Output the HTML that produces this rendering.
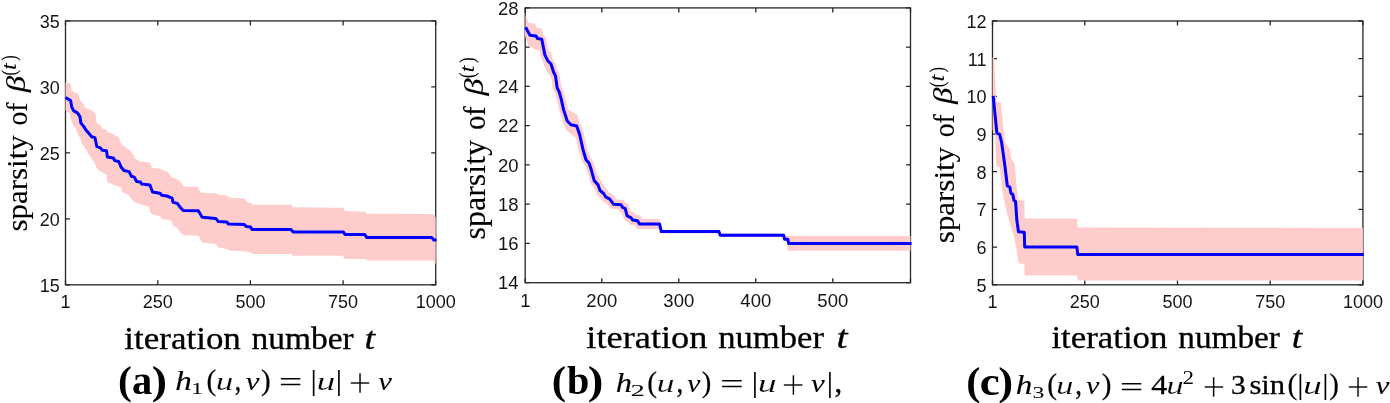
<!DOCTYPE html>
<html lang="en">
<head>
<meta charset="utf-8">
<title>Sparsity of beta versus iteration number</title>
<style>
html,body{margin:0;padding:0;background:#fff;}
body{width:1390px;height:403px;overflow:hidden;}
svg{display:block;}
text{white-space:pre;}
</style>
</head>
<body>
<svg width="1390" height="403" viewBox="0 0 1390 403">
<rect x="0" y="0" width="1390" height="403" fill="#ffffff"/>
<g>
<rect x="65.5" y="20.9" width="370.2" height="263.9" fill="none" stroke="#262626" stroke-width="1.3"/>
<path d="M65.5 284.8v-4.5M65.5 20.9v4.5M157.8 284.8v-4.5M157.8 20.9v4.5M250.4 284.8v-4.5M250.4 20.9v4.5M343.1 284.8v-4.5M343.1 20.9v4.5M435.7 284.8v-4.5M435.7 20.9v4.5M65.5 284.8h4.5M435.7 284.8h-4.5M65.5 218.8h4.5M435.7 218.8h-4.5M65.5 152.9h4.5M435.7 152.9h-4.5M65.5 86.9h4.5M435.7 86.9h-4.5M65.5 20.9h4.5M435.7 20.9h-4.5" stroke="#262626" stroke-width="1.3" fill="none"/>
<polygon points="65.5,82.6 70.4,83.3 71.8,90.6 74.8,92.4 78.2,93.8 80.5,101.1 83.4,103.7 84.7,107.1 87.8,108.9 92.1,110.6 95.6,114.1 96.8,123.6 100.8,125.4 102.6,128.8 106.9,129.7 107.8,132.3 112.1,133.2 115.6,135.8 118.9,137.2 121.3,144.1 124.7,146.7 130.0,150.2 132.6,153.7 135.5,158.9 140.4,161.5 149.9,162.5 151.7,167.4 160.4,169.1 167.4,171.7 171.7,176.9 177.8,179.5 182.1,183.9 183.9,186.5 197.8,186.8 200.4,192.6 217.0,193.4 219.6,194.8 227.0,195.6 229.5,197.8 244.4,198.5 246.8,202.3 251.0,202.5 252.3,204.8 292.0,204.8 292.7,207.3 343.4,207.8 344.5,211.0 366.0,211.8 366.8,213.7 433.0,214.0 435.7,217.2 435.7,263.9 433.0,260.6 366.8,260.6 366.0,259.0 344.3,259.0 343.2,255.7 292.7,255.7 292.0,254.0 252.5,254.0 251.0,252.2 244.4,251.4 229.5,250.6 227.0,249.0 218.3,247.4 215.8,244.0 202.2,242.5 198.5,235.8 183.4,235.2 179.9,232.1 177.3,227.8 173.0,226.0 171.2,220.3 161.7,219.1 160.8,216.5 151.3,213.9 148.7,206.9 140.8,204.3 135.6,202.6 132.2,200.0 128.7,195.3 122.6,192.2 120.5,187.2 118.7,186.7 114.3,184.9 107.4,182.3 106.5,174.5 101.3,171.9 96.9,168.4 94.3,162.3 90.0,156.3 84.8,147.5 81.7,143.6 80.0,137.5 77.4,134.1 75.6,128.0 73.5,125.4 71.3,121.0 69.6,113.6 65.5,110.6" fill="#ffcccc"/>
<polyline points="65.5,97.4 70.6,100.6 71.8,107.1 73.5,110.6 77.4,112.9 80.0,116.7 80.8,122.8 83.4,126.2 86.1,130.2 89.5,134.1 91.6,136.7 94.9,137.6 96.9,146.7 100.4,147.9 102.2,150.2 106.5,150.7 107.4,157.1 113.4,158.0 114.7,160.6 118.7,161.5 120.9,166.7 123.9,170.5 129.1,171.6 131.3,176.2 134.3,177.1 136.6,181.5 140.4,182.0 141.8,184.1 149.9,184.9 152.5,191.9 160.0,193.2 161.7,195.3 166.9,196.0 172.1,198.2 173.0,202.2 177.3,203.4 179.9,206.9 183.2,210.6 198.3,210.7 202.2,217.2 215.8,218.4 218.3,221.6 227.0,222.0 228.2,224.0 244.4,224.6 246.4,226.6 250.6,227.0 252.2,229.6 291.0,229.6 293.4,232.1 343.5,232.1 345.0,234.6 364.8,234.6 366.8,237.6 431.8,237.6 433.8,240.0 436.6,240.0" fill="none" stroke="#0000ff" stroke-width="3.0" stroke-linejoin="round" stroke-linecap="butt"/>
<text transform="translate(65.5,308.3) scale(1.0,1)" text-anchor="middle" font-family="'Liberation Sans', Arial, Helvetica, sans-serif" font-size="18" fill="#151515">1</text>
<text transform="translate(157.8,308.3) scale(1.0,1)" text-anchor="middle" font-family="'Liberation Sans', Arial, Helvetica, sans-serif" font-size="18" fill="#151515">250</text>
<text transform="translate(250.4,308.3) scale(1.0,1)" text-anchor="middle" font-family="'Liberation Sans', Arial, Helvetica, sans-serif" font-size="18" fill="#151515">500</text>
<text transform="translate(343.1,308.3) scale(1.0,1)" text-anchor="middle" font-family="'Liberation Sans', Arial, Helvetica, sans-serif" font-size="18" fill="#151515">750</text>
<text transform="translate(435.7,308.3) scale(1.0,1)" text-anchor="middle" font-family="'Liberation Sans', Arial, Helvetica, sans-serif" font-size="18" fill="#151515">1000</text>
<text transform="translate(59.7,291.7) scale(1.0,1)" text-anchor="end" font-family="'Liberation Sans', Arial, Helvetica, sans-serif" font-size="18" fill="#151515">15</text>
<text transform="translate(59.7,225.7) scale(1.0,1)" text-anchor="end" font-family="'Liberation Sans', Arial, Helvetica, sans-serif" font-size="18" fill="#151515">20</text>
<text transform="translate(59.7,159.8) scale(1.0,1)" text-anchor="end" font-family="'Liberation Sans', Arial, Helvetica, sans-serif" font-size="18" fill="#151515">25</text>
<text transform="translate(59.7,93.8) scale(1.0,1)" text-anchor="end" font-family="'Liberation Sans', Arial, Helvetica, sans-serif" font-size="18" fill="#151515">30</text>
<text transform="translate(59.7,27.8) scale(1.0,1)" text-anchor="end" font-family="'Liberation Sans', Arial, Helvetica, sans-serif" font-size="18" fill="#151515">35</text>
<text transform="translate(124.30,348.70) scale(1.1437,1.0000)" font-family="'Liberation Serif', 'Times New Roman', Times, serif" font-size="30.6" fill="#000" stroke="#000" stroke-width="0.3">iteration</text>
<text transform="translate(251.45,348.70) scale(1.0944,1.0000)" font-family="'Liberation Serif', 'Times New Roman', Times, serif" font-size="30.6" fill="#000" stroke="#000" stroke-width="0.3">number</text>
<text transform="translate(364.59,348.70) scale(1.2425,1.0000)" font-family="'Liberation Serif', 'Times New Roman', Times, serif" font-size="30.6" font-style="italic" fill="#000" stroke="#000" stroke-width="0.3">t</text>
<g transform="translate(26.8,230.2) rotate(-90)">
<text transform="translate(-1.24,0.00) scale(1.0310,1.0000)" font-family="'Liberation Serif', 'Times New Roman', Times, serif" font-size="30.0" fill="#000" stroke="#000" stroke-width="0.1">sparsity</text>
<text transform="translate(104.77,0.00) scale(0.9140,1.0000)" font-family="'Liberation Serif', 'Times New Roman', Times, serif" font-size="30.0" fill="#000" stroke="#000" stroke-width="0.1">of</text>
<text transform="translate(137.99,-2.30) scale(1.2300,1.0000)" font-family="'Liberation Serif', 'Times New Roman', Times, serif" font-size="26.81" font-style="italic" fill="#000" stroke="#000" stroke-width="0.1">β</text>
<text transform="translate(154.66,-10.80) scale(0.7919,1.0000)" font-family="'Liberation Serif', 'Times New Roman', Times, serif" font-size="20.8" fill="#000" stroke="#000" stroke-width="0.1">(</text>
<text transform="translate(160.57,-10.80) scale(1.1043,1.0000)" font-family="'Liberation Serif', 'Times New Roman', Times, serif" font-size="20.8" font-style="italic" fill="#000" stroke="#000" stroke-width="0.1">t</text>
<text transform="translate(169.47,-10.80) scale(0.7842,1.0000)" font-family="'Liberation Serif', 'Times New Roman', Times, serif" font-size="20.8" fill="#000" stroke="#000" stroke-width="0.1">)</text>
</g>
</g>
<text transform="translate(118.03,394.00) scale(1.0264,1.0000)" font-family="'Liberation Serif', 'Times New Roman', Times, serif" font-size="40.5" font-weight="bold" fill="#000">(</text>
<text transform="translate(131.89,394.00) scale(0.9986,1.0000)" font-family="'Liberation Serif', 'Times New Roman', Times, serif" font-size="40.5" font-weight="bold" fill="#000">a</text>
<text transform="translate(151.71,394.00) scale(1.1315,1.0000)" font-family="'Liberation Serif', 'Times New Roman', Times, serif" font-size="40.5" font-weight="bold" fill="#000">)</text>
<text transform="translate(175.16,389.70) scale(1.2172,1.0000)" font-family="'Liberation Serif', 'Times New Roman', Times, serif" font-size="27.19" font-style="italic" fill="#000" stroke="#000" stroke-width="0.15">h</text>
<text transform="translate(190.97,393.70) scale(1.3760,1.0000)" font-family="'Liberation Serif', 'Times New Roman', Times, serif" font-size="17.73" fill="#000">1</text>
<text transform="translate(206.38,390.18) scale(0.9742,1.0000)" font-family="'Liberation Serif', 'Times New Roman', Times, serif" font-size="30.19" fill="#000" stroke="#000" stroke-width="0.2">(</text>
<text transform="translate(215.64,389.68) scale(1.3614,1.0000)" font-family="'Liberation Serif', 'Times New Roman', Times, serif" font-size="25.82" font-style="italic" fill="#000" stroke="#fff" stroke-width="0.2">u</text>
<text transform="translate(234.75,390.06) scale(0.7956,1.0000)" font-family="'Liberation Serif', 'Times New Roman', Times, serif" font-size="31.84" fill="#000" stroke="#000" stroke-width="0.3">,</text>
<text transform="translate(245.84,389.74) scale(1.1915,1.0000)" font-family="'Liberation Serif', 'Times New Roman', Times, serif" font-size="25.96" font-style="italic" fill="#000" stroke="#000" stroke-width="0.1">v</text>
<text transform="translate(260.95,390.18) scale(0.9648,1.0000)" font-family="'Liberation Serif', 'Times New Roman', Times, serif" font-size="30.19" fill="#000" stroke="#000" stroke-width="0.2">)</text>
<text transform="translate(278.80,392.48) scale(1.4561,1.0000)" font-family="'Liberation Serif', 'Times New Roman', Times, serif" font-size="28.8" fill="#000">=</text>
<text transform="translate(310.30,390.02) scale(1.1459,1.0000)" font-family="'Liberation Serif', 'Times New Roman', Times, serif" font-size="29.67" fill="#000">|</text>
<text transform="translate(316.42,389.68) scale(1.4553,1.0000)" font-family="'Liberation Serif', 'Times New Roman', Times, serif" font-size="25.82" font-style="italic" fill="#000" stroke="#fff" stroke-width="0.2">u</text>
<text transform="translate(335.40,390.02) scale(1.1459,1.0000)" font-family="'Liberation Serif', 'Times New Roman', Times, serif" font-size="29.67" fill="#000">|</text>
<text transform="translate(348.46,396.91) scale(0.9694,1.0000)" font-family="'Liberation Serif', 'Times New Roman', Times, serif" font-size="42.15" fill="#000" stroke="#fff" stroke-width="0.55">+</text>
<text transform="translate(378.24,389.74) scale(1.1825,1.0000)" font-family="'Liberation Serif', 'Times New Roman', Times, serif" font-size="25.96" font-style="italic" fill="#000" stroke="#000" stroke-width="0.1">v</text>
<text transform="translate(551.66,394.00) scale(1.0784,1.0000)" font-family="'Liberation Serif', 'Times New Roman', Times, serif" font-size="40.0" font-weight="bold" fill="#000">(</text>
<text transform="translate(566.90,394.00) scale(1.0050,1.0000)" font-family="'Liberation Serif', 'Times New Roman', Times, serif" font-size="40.0" font-weight="bold" fill="#000">b</text>
<text transform="translate(587.77,394.00) scale(1.1748,1.0000)" font-family="'Liberation Serif', 'Times New Roman', Times, serif" font-size="40.0" font-weight="bold" fill="#000">)</text>
<text transform="translate(615.68,391.70) scale(1.1997,1.0000)" font-family="'Liberation Serif', 'Times New Roman', Times, serif" font-size="27.19" font-style="italic" fill="#000" stroke="#000" stroke-width="0.15">h</text>
<text transform="translate(630.61,395.70) scale(1.6280,1.0000)" font-family="'Liberation Serif', 'Times New Roman', Times, serif" font-size="17.66" fill="#000">2</text>
<text transform="translate(647.28,392.18) scale(0.9742,1.0000)" font-family="'Liberation Serif', 'Times New Roman', Times, serif" font-size="30.19" fill="#000" stroke="#000" stroke-width="0.2">(</text>
<text transform="translate(656.59,391.68) scale(1.3990,1.0000)" font-family="'Liberation Serif', 'Times New Roman', Times, serif" font-size="25.82" font-style="italic" fill="#000" stroke="#fff" stroke-width="0.2">u</text>
<text transform="translate(676.40,392.06) scale(0.8375,1.0000)" font-family="'Liberation Serif', 'Times New Roman', Times, serif" font-size="31.84" fill="#000" stroke="#000" stroke-width="0.3">,</text>
<text transform="translate(687.26,391.74) scale(1.1377,1.0000)" font-family="'Liberation Serif', 'Times New Roman', Times, serif" font-size="25.96" font-style="italic" fill="#000" stroke="#000" stroke-width="0.1">v</text>
<text transform="translate(701.77,392.18) scale(0.9519,1.0000)" font-family="'Liberation Serif', 'Times New Roman', Times, serif" font-size="30.19" fill="#000" stroke="#000" stroke-width="0.2">)</text>
<text transform="translate(720.09,394.48) scale(1.4636,1.0000)" font-family="'Liberation Serif', 'Times New Roman', Times, serif" font-size="28.8" fill="#000">=</text>
<text transform="translate(751.60,392.02) scale(1.1459,1.0000)" font-family="'Liberation Serif', 'Times New Roman', Times, serif" font-size="29.67" fill="#000">|</text>
<text transform="translate(757.71,391.68) scale(1.4647,1.0000)" font-family="'Liberation Serif', 'Times New Roman', Times, serif" font-size="25.82" font-style="italic" fill="#000" stroke="#fff" stroke-width="0.2">u</text>
<text transform="translate(781.76,398.91) scale(0.9694,1.0000)" font-family="'Liberation Serif', 'Times New Roman', Times, serif" font-size="42.15" fill="#000" stroke="#fff" stroke-width="0.55">+</text>
<text transform="translate(810.94,391.74) scale(1.1915,1.0000)" font-family="'Liberation Serif', 'Times New Roman', Times, serif" font-size="25.96" font-style="italic" fill="#000" stroke="#000" stroke-width="0.1">v</text>
<text transform="translate(826.50,392.02) scale(1.1459,1.0000)" font-family="'Liberation Serif', 'Times New Roman', Times, serif" font-size="29.67" fill="#000">|</text>
<text transform="translate(834.45,392.06) scale(0.9631,1.0000)" font-family="'Liberation Serif', 'Times New Roman', Times, serif" font-size="31.84" fill="#000" stroke="#000" stroke-width="0.3">,</text>
<text transform="translate(966.18,394.50) scale(1.0686,1.0000)" font-family="'Liberation Serif', 'Times New Roman', Times, serif" font-size="40.0" font-weight="bold" fill="#000">(</text>
<text transform="translate(979.73,394.50) scale(1.1234,1.0000)" font-family="'Liberation Serif', 'Times New Roman', Times, serif" font-size="40.0" font-weight="bold" fill="#000">c</text>
<text transform="translate(998.25,394.50) scale(1.1165,1.0000)" font-family="'Liberation Serif', 'Times New Roman', Times, serif" font-size="40.0" font-weight="bold" fill="#000">)</text>
<text transform="translate(1015.75,394.00) scale(1.2259,1.0000)" font-family="'Liberation Serif', 'Times New Roman', Times, serif" font-size="27.19" font-style="italic" fill="#000" stroke="#000" stroke-width="0.15">h</text>
<text transform="translate(1032.57,397.83) scale(1.3654,1.0000)" font-family="'Liberation Serif', 'Times New Roman', Times, serif" font-size="17.4" fill="#000">3</text>
<text transform="translate(1047.28,394.48) scale(0.9742,1.0000)" font-family="'Liberation Serif', 'Times New Roman', Times, serif" font-size="30.19" fill="#000" stroke="#000" stroke-width="0.2">(</text>
<text transform="translate(1056.05,393.98) scale(1.3520,1.0000)" font-family="'Liberation Serif', 'Times New Roman', Times, serif" font-size="25.82" font-style="italic" fill="#000" stroke="#fff" stroke-width="0.2">u</text>
<text transform="translate(1075.30,394.36) scale(0.8375,1.0000)" font-family="'Liberation Serif', 'Times New Roman', Times, serif" font-size="31.84" fill="#000" stroke="#000" stroke-width="0.3">,</text>
<text transform="translate(1086.16,394.04) scale(1.1377,1.0000)" font-family="'Liberation Serif', 'Times New Roman', Times, serif" font-size="25.96" font-style="italic" fill="#000" stroke="#000" stroke-width="0.1">v</text>
<text transform="translate(1101.65,394.48) scale(0.9648,1.0000)" font-family="'Liberation Serif', 'Times New Roman', Times, serif" font-size="30.19" fill="#000" stroke="#000" stroke-width="0.2">)</text>
<text transform="translate(1119.80,396.78) scale(1.4561,1.0000)" font-family="'Liberation Serif', 'Times New Roman', Times, serif" font-size="28.8" fill="#000">=</text>
<text transform="translate(1151.15,394.00) scale(1.1463,1.0000)" font-family="'Liberation Serif', 'Times New Roman', Times, serif" font-size="28.14" fill="#000" stroke="#000" stroke-width="0.3">4</text>
<text transform="translate(1166.15,393.98) scale(1.3520,1.0000)" font-family="'Liberation Serif', 'Times New Roman', Times, serif" font-size="25.82" font-style="italic" fill="#000" stroke="#fff" stroke-width="0.2">u</text>
<text transform="translate(1182.46,383.60) scale(1.1998,1.0000)" font-family="'Liberation Serif', 'Times New Roman', Times, serif" font-size="19.17" fill="#000">2</text>
<text transform="translate(1202.16,401.21) scale(0.9694,1.0000)" font-family="'Liberation Serif', 'Times New Roman', Times, serif" font-size="42.15" fill="#000" stroke="#fff" stroke-width="0.55">+</text>
<text transform="translate(1230.91,394.02) scale(1.0491,1.0000)" font-family="'Liberation Serif', 'Times New Roman', Times, serif" font-size="27.96" fill="#000" stroke="#000" stroke-width="0.3">3</text>
<text transform="translate(1249.48,394.02) scale(1.1049,1.0000)" font-family="'Liberation Serif', 'Times New Roman', Times, serif" font-size="27.66" fill="#000" stroke="#000" stroke-width="0.3">sin</text>
<text transform="translate(1287.38,394.48) scale(0.9742,1.0000)" font-family="'Liberation Serif', 'Times New Roman', Times, serif" font-size="30.19" fill="#000" stroke="#000" stroke-width="0.2">(</text>
<text transform="translate(1297.00,394.32) scale(1.1459,1.0000)" font-family="'Liberation Serif', 'Times New Roman', Times, serif" font-size="29.67" fill="#000">|</text>
<text transform="translate(1302.91,393.98) scale(1.4647,1.0000)" font-family="'Liberation Serif', 'Times New Roman', Times, serif" font-size="25.82" font-style="italic" fill="#000" stroke="#fff" stroke-width="0.2">u</text>
<text transform="translate(1322.10,394.32) scale(1.1459,1.0000)" font-family="'Liberation Serif', 'Times New Roman', Times, serif" font-size="29.67" fill="#000">|</text>
<text transform="translate(1329.15,394.48) scale(0.9648,1.0000)" font-family="'Liberation Serif', 'Times New Roman', Times, serif" font-size="30.19" fill="#000" stroke="#000" stroke-width="0.2">)</text>
<text transform="translate(1346.56,401.21) scale(0.9694,1.0000)" font-family="'Liberation Serif', 'Times New Roman', Times, serif" font-size="42.15" fill="#000" stroke="#fff" stroke-width="0.55">+</text>
<text transform="translate(1375.74,394.04) scale(1.1825,1.0000)" font-family="'Liberation Serif', 'Times New Roman', Times, serif" font-size="25.96" font-style="italic" fill="#000" stroke="#000" stroke-width="0.1">v</text>
<g>
<rect x="525.2" y="7.9" width="385.3" height="274.8" fill="none" stroke="#262626" stroke-width="1.3"/>
<path d="M525.2 282.7v-4.5M525.2 7.9v4.5M601.8 282.7v-4.5M601.8 7.9v4.5M678.8 282.7v-4.5M678.8 7.9v4.5M755.8 282.7v-4.5M755.8 7.9v4.5M832.8 282.7v-4.5M832.8 7.9v4.5M910.5 282.7v-4.5M910.5 7.9v4.5M525.2 282.7h4.5M910.5 282.7h-4.5M525.2 243.4h4.5M910.5 243.4h-4.5M525.2 204.2h4.5M910.5 204.2h-4.5M525.2 164.9h4.5M910.5 164.9h-4.5M525.2 125.7h4.5M910.5 125.7h-4.5M525.2 86.4h4.5M910.5 86.4h-4.5M525.2 47.2h4.5M910.5 47.2h-4.5M525.2 7.9h4.5M910.5 7.9h-4.5" stroke="#262626" stroke-width="1.3" fill="none"/>
<polygon points="525.5,14.9 528.7,22.9 534.9,23.6 536.9,27.8 541.8,28.6 544.8,43.5 547.3,49.7 551.0,52.1 553.5,64.6 556.7,72.0 558.5,84.4 562.2,88.1 564.2,99.3 566.0,108.6 577.2,114.8 581.0,127.0 584.5,140.0 588.0,152.0 592.0,160.0 594.5,166.0 597.5,176.0 601.0,180.0 603.0,185.5 606.5,188.5 609.0,192.5 613.0,194.5 616.5,199.5 624.0,200.0 625.5,203.0 628.0,203.5 630.0,211.0 634.0,212.5 635.5,215.0 640.5,215.5 642.5,219.0 659.6,219.0 661.3,229.8 719.0,229.8 720.2,233.2 783.6,233.2 784.6,236.0 910.5,236.0 910.5,250.8 787.4,250.8 787.4,241.5 784.6,241.5 783.6,237.2 720.2,237.2 719.0,233.4 661.3,233.4 659.6,229.0 637.0,229.0 635.0,225.3 630.0,224.5 628.0,222.0 624.5,220.3 622.5,212.7 620.0,212.0 618.0,209.0 610.5,208.5 607.0,203.5 603.0,201.5 600.5,198.0 597.0,194.5 595.0,189.0 591.5,185.0 589.0,174.5 587.0,167.5 584.0,163.5 581.0,152.0 578.5,139.6 573.5,135.9 566.0,129.7 562.3,119.8 561.0,114.0 559.7,106.0 558.5,100.5 556.7,93.1 553.5,84.4 551.0,77.0 547.3,72.0 543.6,64.6 541.1,51.0 536.1,49.7 528.7,46.0 525.5,37.3" fill="#ffcccc"/>
<clipPath id="clipB"><rect x="525.2" y="7.9" width="385.3" height="274.8"/></clipPath>
<polyline clip-path="url(#clipB)" points="525.6,27.3 530.0,35.3 536.1,36.0 537.4,38.5 541.8,39.2 544.8,54.6 547.8,60.8 551.0,64.0 553.5,72.0 555.5,75.7 557.2,88.1 559.2,91.8 561.1,98.7 563.6,109.9 567.3,121.0 571.0,124.7 576.7,126.0 579.7,134.7 582.7,148.3 585.9,159.5 589.1,163.2 591.4,170.3 594.3,180.8 597.9,184.6 599.9,190.3 603.6,193.5 606.0,197.2 609.8,199.2 613.5,204.2 621.0,204.7 622.7,207.6 625.2,208.4 627.1,215.8 630.9,217.6 632.6,220.0 637.6,220.8 639.6,224.1 659.6,224.1" fill="none" stroke="#ffcccc" stroke-width="8.6" stroke-linejoin="round"/>
<polyline points="525.6,27.3 530.0,35.3 536.1,36.0 537.4,38.5 541.8,39.2 544.8,54.6 547.8,60.8 551.0,64.0 553.5,72.0 555.5,75.7 557.2,88.1 559.2,91.8 561.1,98.7 563.6,109.9 567.3,121.0 571.0,124.7 576.7,126.0 579.7,134.7 582.7,148.3 585.9,159.5 589.1,163.2 591.4,170.3 594.3,180.8 597.9,184.6 599.9,190.3 603.6,193.5 606.0,197.2 609.8,199.2 613.5,204.2 621.0,204.7 622.7,207.6 625.2,208.4 627.1,215.8 630.9,217.6 632.6,220.0 637.6,220.8 639.6,224.1 659.6,224.1 661.3,231.6 719.0,231.6 720.2,235.2 783.6,235.2 784.6,239.3 787.8,239.3 788.7,243.4 911.6,243.4" fill="none" stroke="#0000ff" stroke-width="3.0" stroke-linejoin="round" stroke-linecap="butt"/>
<text transform="translate(525.4,307.0) scale(1.0,1)" text-anchor="middle" font-family="'Liberation Sans', Arial, Helvetica, sans-serif" font-size="18.5" fill="#151515">1</text>
<text transform="translate(601.8,307.0) scale(1.0,1)" text-anchor="middle" font-family="'Liberation Sans', Arial, Helvetica, sans-serif" font-size="18.5" fill="#151515">200</text>
<text transform="translate(678.8,307.0) scale(1.0,1)" text-anchor="middle" font-family="'Liberation Sans', Arial, Helvetica, sans-serif" font-size="18.5" fill="#151515">300</text>
<text transform="translate(755.8,307.0) scale(1.0,1)" text-anchor="middle" font-family="'Liberation Sans', Arial, Helvetica, sans-serif" font-size="18.5" fill="#151515">400</text>
<text transform="translate(832.8,307.0) scale(1.0,1)" text-anchor="middle" font-family="'Liberation Sans', Arial, Helvetica, sans-serif" font-size="18.5" fill="#151515">500</text>
<text transform="translate(518.6,289.3) scale(1.0,1)" text-anchor="end" font-family="'Liberation Sans', Arial, Helvetica, sans-serif" font-size="18.5" fill="#151515">14</text>
<text transform="translate(518.6,250.0) scale(1.0,1)" text-anchor="end" font-family="'Liberation Sans', Arial, Helvetica, sans-serif" font-size="18.5" fill="#151515">16</text>
<text transform="translate(518.6,210.8) scale(1.0,1)" text-anchor="end" font-family="'Liberation Sans', Arial, Helvetica, sans-serif" font-size="18.5" fill="#151515">18</text>
<text transform="translate(518.6,171.5) scale(1.0,1)" text-anchor="end" font-family="'Liberation Sans', Arial, Helvetica, sans-serif" font-size="18.5" fill="#151515">20</text>
<text transform="translate(518.6,132.3) scale(1.0,1)" text-anchor="end" font-family="'Liberation Sans', Arial, Helvetica, sans-serif" font-size="18.5" fill="#151515">22</text>
<text transform="translate(518.6,93.0) scale(1.0,1)" text-anchor="end" font-family="'Liberation Sans', Arial, Helvetica, sans-serif" font-size="18.5" fill="#151515">24</text>
<text transform="translate(518.6,53.8) scale(1.0,1)" text-anchor="end" font-family="'Liberation Sans', Arial, Helvetica, sans-serif" font-size="18.5" fill="#151515">26</text>
<text transform="translate(518.6,14.5) scale(1.0,1)" text-anchor="end" font-family="'Liberation Sans', Arial, Helvetica, sans-serif" font-size="18.5" fill="#151515">28</text>
<text transform="translate(586.37,348.30) scale(1.1644,1.0000)" font-family="'Liberation Serif', 'Times New Roman', Times, serif" font-size="31.2" fill="#000" stroke="#000" stroke-width="0.3">iteration</text>
<text transform="translate(718.22,348.30) scale(1.1104,1.0000)" font-family="'Liberation Serif', 'Times New Roman', Times, serif" font-size="31.2" fill="#000" stroke="#000" stroke-width="0.3">number</text>
<text transform="translate(836.52,348.30) scale(1.2694,1.0000)" font-family="'Liberation Serif', 'Times New Roman', Times, serif" font-size="31.2" font-style="italic" fill="#000" stroke="#000" stroke-width="0.3">t</text>
<g transform="translate(485.2,238.1) rotate(-90)">
<text transform="translate(-1.28,0.00) scale(1.0310,1.0000)" font-family="'Liberation Serif', 'Times New Roman', Times, serif" font-size="30.99" fill="#000" stroke="#000" stroke-width="0.1">sparsity</text>
<text transform="translate(108.23,0.00) scale(0.9140,1.0000)" font-family="'Liberation Serif', 'Times New Roman', Times, serif" font-size="30.99" fill="#000" stroke="#000" stroke-width="0.1">of</text>
<text transform="translate(142.55,-2.37) scale(1.2297,1.0000)" font-family="'Liberation Serif', 'Times New Roman', Times, serif" font-size="27.7" font-style="italic" fill="#000" stroke="#000" stroke-width="0.1">β</text>
<text transform="translate(159.76,-11.16) scale(0.7919,1.0000)" font-family="'Liberation Serif', 'Times New Roman', Times, serif" font-size="21.4864" fill="#000" stroke="#000" stroke-width="0.1">(</text>
<text transform="translate(165.87,-11.16) scale(1.1043,1.0000)" font-family="'Liberation Serif', 'Times New Roman', Times, serif" font-size="21.4864" font-style="italic" fill="#000" stroke="#000" stroke-width="0.1">t</text>
<text transform="translate(175.06,-11.16) scale(0.7842,1.0000)" font-family="'Liberation Serif', 'Times New Roman', Times, serif" font-size="21.4864" fill="#000" stroke="#000" stroke-width="0.1">)</text>
</g>
</g>
<g>
<rect x="992.5" y="21.0" width="370.4" height="263.8" fill="none" stroke="#262626" stroke-width="1.3"/>
<path d="M992.5 284.8v-4.5M992.5 21.0v4.5M1084.8 284.8v-4.5M1084.8 21.0v4.5M1177.5 284.8v-4.5M1177.5 21.0v4.5M1270.2 284.8v-4.5M1270.2 21.0v4.5M1362.9 284.8v-4.5M1362.9 21.0v4.5M992.5 284.8h4.5M1362.9 284.8h-4.5M992.5 247.1h4.5M1362.9 247.1h-4.5M992.5 209.4h4.5M1362.9 209.4h-4.5M992.5 171.7h4.5M1362.9 171.7h-4.5M992.5 134.1h4.5M1362.9 134.1h-4.5M992.5 96.4h4.5M1362.9 96.4h-4.5M992.5 58.7h4.5M1362.9 58.7h-4.5M992.5 21.0h4.5M1362.9 21.0h-4.5" stroke="#262626" stroke-width="1.3" fill="none"/>
<polygon points="992.6,57.4 994.0,57.4 996.2,100.9 1001.1,103.3 1002.9,122.0 1004.9,142.3 1009.8,148.5 1011.0,157.2 1014.8,164.7 1016.8,189.5 1018.5,200.0 1024.4,200.4 1024.7,218.5 1076.8,218.5 1077.8,227.5 1362.9,228.0 1362.9,280.6 1077.8,280.6 1076.8,275.6 1024.7,275.6 1024.3,264.4 1018.5,263.2 1014.8,239.6 1011.0,227.2 1007.3,214.8 1004.0,200.0 1001.9,187.0 999.9,167.1 996.2,165.9 995.0,132.4 992.6,130.0" fill="#ffcccc"/>
<polyline points="993.2,95.9 996.9,133.4 999.6,134.1 1001.6,142.3 1004.9,165.9 1007.3,185.8 1009.8,187.0 1011.0,193.4 1012.8,194.4 1014.0,200.6 1015.6,201.6 1016.8,219.8 1018.5,231.8 1024.3,232.2 1024.7,247.0 1076.8,247.0 1077.8,254.6 1363.8,254.6" fill="none" stroke="#0000ff" stroke-width="3.0" stroke-linejoin="round" stroke-linecap="butt"/>
<text transform="translate(992.5,308.0) scale(1.0,1)" text-anchor="middle" font-family="'Liberation Sans', Arial, Helvetica, sans-serif" font-size="18" fill="#151515">1</text>
<text transform="translate(1084.8,308.0) scale(1.0,1)" text-anchor="middle" font-family="'Liberation Sans', Arial, Helvetica, sans-serif" font-size="18" fill="#151515">250</text>
<text transform="translate(1177.5,308.0) scale(1.0,1)" text-anchor="middle" font-family="'Liberation Sans', Arial, Helvetica, sans-serif" font-size="18" fill="#151515">500</text>
<text transform="translate(1270.2,308.0) scale(1.0,1)" text-anchor="middle" font-family="'Liberation Sans', Arial, Helvetica, sans-serif" font-size="18" fill="#151515">750</text>
<text transform="translate(1362.9,308.0) scale(1.0,1)" text-anchor="middle" font-family="'Liberation Sans', Arial, Helvetica, sans-serif" font-size="18" fill="#151515">1000</text>
<text transform="translate(986.5,291.7) scale(1.0,1)" text-anchor="end" font-family="'Liberation Sans', Arial, Helvetica, sans-serif" font-size="18" fill="#151515">5</text>
<text transform="translate(986.5,254.0) scale(1.0,1)" text-anchor="end" font-family="'Liberation Sans', Arial, Helvetica, sans-serif" font-size="18" fill="#151515">6</text>
<text transform="translate(986.5,216.3) scale(1.0,1)" text-anchor="end" font-family="'Liberation Sans', Arial, Helvetica, sans-serif" font-size="18" fill="#151515">7</text>
<text transform="translate(986.5,178.6) scale(1.0,1)" text-anchor="end" font-family="'Liberation Sans', Arial, Helvetica, sans-serif" font-size="18" fill="#151515">8</text>
<text transform="translate(986.5,141.0) scale(1.0,1)" text-anchor="end" font-family="'Liberation Sans', Arial, Helvetica, sans-serif" font-size="18" fill="#151515">9</text>
<text transform="translate(986.5,103.3) scale(1.0,1)" text-anchor="end" font-family="'Liberation Sans', Arial, Helvetica, sans-serif" font-size="18" fill="#151515">10</text>
<text transform="translate(986.5,65.6) scale(1.0,1)" text-anchor="end" font-family="'Liberation Sans', Arial, Helvetica, sans-serif" font-size="18" fill="#151515">11</text>
<text transform="translate(986.5,27.9) scale(1.0,1)" text-anchor="end" font-family="'Liberation Sans', Arial, Helvetica, sans-serif" font-size="18" fill="#151515">12</text>
<text transform="translate(1051.40,348.40) scale(1.1377,1.0000)" font-family="'Liberation Serif', 'Times New Roman', Times, serif" font-size="30.6" fill="#000" stroke="#000" stroke-width="0.3">iteration</text>
<text transform="translate(1178.25,348.40) scale(1.0879,1.0000)" font-family="'Liberation Serif', 'Times New Roman', Times, serif" font-size="30.6" fill="#000" stroke="#000" stroke-width="0.3">number</text>
<text transform="translate(1291.71,348.40) scale(1.2295,1.0000)" font-family="'Liberation Serif', 'Times New Roman', Times, serif" font-size="30.6" font-style="italic" fill="#000" stroke="#000" stroke-width="0.3">t</text>
<g transform="translate(954.4,241.9) rotate(-90)">
<text transform="translate(-1.24,0.00) scale(1.0310,1.0000)" font-family="'Liberation Serif', 'Times New Roman', Times, serif" font-size="30.0" fill="#000" stroke="#000" stroke-width="0.1">sparsity</text>
<text transform="translate(104.77,0.00) scale(0.9140,1.0000)" font-family="'Liberation Serif', 'Times New Roman', Times, serif" font-size="30.0" fill="#000" stroke="#000" stroke-width="0.1">of</text>
<text transform="translate(137.99,-2.30) scale(1.2300,1.0000)" font-family="'Liberation Serif', 'Times New Roman', Times, serif" font-size="26.81" font-style="italic" fill="#000" stroke="#000" stroke-width="0.1">β</text>
<text transform="translate(154.66,-10.80) scale(0.7919,1.0000)" font-family="'Liberation Serif', 'Times New Roman', Times, serif" font-size="20.8" fill="#000" stroke="#000" stroke-width="0.1">(</text>
<text transform="translate(160.57,-10.80) scale(1.1043,1.0000)" font-family="'Liberation Serif', 'Times New Roman', Times, serif" font-size="20.8" font-style="italic" fill="#000" stroke="#000" stroke-width="0.1">t</text>
<text transform="translate(169.47,-10.80) scale(0.7842,1.0000)" font-family="'Liberation Serif', 'Times New Roman', Times, serif" font-size="20.8" fill="#000" stroke="#000" stroke-width="0.1">)</text>
</g>
</g>
</svg>
</body>
</html>
